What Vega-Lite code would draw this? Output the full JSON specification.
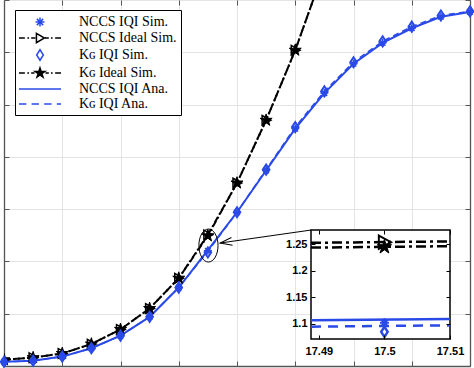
{
  "$schema": "https://vega.github.io/schema/vega-lite/v6.json",
  "width": 466,
  "height": 366,
  "autosize": "none",
  "padding": {"left": 4, "top": 0, "right": 4, "bottom": 2},
  "background": "white",
  "config": {
    "view": {"stroke": null},
    "axis": {"domainColor": "#555555", "domainWidth": 1.3, "tickColor": "#555555", "gridColor": "#e4e4e4", "gridWidth": 1},
    "legend": {"symbolFillColor": "white", "symbolStrokeColor": "black", "labelFontSize": 14, "labelFont": "Liberation Serif"}
  },
  "datasets": {
    "main": [
      {"snr": 0, "series": "NCCS IQI Ana.", "value": 0.04},
      {"snr": 2.5, "series": "NCCS IQI Ana.", "value": 0.05},
      {"snr": 5, "series": "NCCS IQI Ana.", "value": 0.09},
      {"snr": 7.5, "series": "NCCS IQI Ana.", "value": 0.17},
      {"snr": 10, "series": "NCCS IQI Ana.", "value": 0.29},
      {"snr": 12.5, "series": "NCCS IQI Ana.", "value": 0.47},
      {"snr": 15, "series": "NCCS IQI Ana.", "value": 0.75},
      {"snr": 17.5, "series": "NCCS IQI Ana.", "value": 1.108},
      {"snr": 20, "series": "NCCS IQI Ana.", "value": 1.47},
      {"snr": 22.5, "series": "NCCS IQI Ana.", "value": 1.87},
      {"snr": 25, "series": "NCCS IQI Ana.", "value": 2.27},
      {"snr": 27.5, "series": "NCCS IQI Ana.", "value": 2.61},
      {"snr": 30, "series": "NCCS IQI Ana.", "value": 2.89},
      {"snr": 32.5, "series": "NCCS IQI Ana.", "value": 3.09},
      {"snr": 35, "series": "NCCS IQI Ana.", "value": 3.23},
      {"snr": 37.5, "series": "NCCS IQI Ana.", "value": 3.34},
      {"snr": 40, "series": "NCCS IQI Ana.", "value": 3.385},
      {"snr": 0, "series": "NCCS IQI Sim.", "value": 0.04},
      {"snr": 2.5, "series": "NCCS IQI Sim.", "value": 0.05},
      {"snr": 5, "series": "NCCS IQI Sim.", "value": 0.09},
      {"snr": 7.5, "series": "NCCS IQI Sim.", "value": 0.17},
      {"snr": 10, "series": "NCCS IQI Sim.", "value": 0.29},
      {"snr": 12.5, "series": "NCCS IQI Sim.", "value": 0.47},
      {"snr": 15, "series": "NCCS IQI Sim.", "value": 0.75},
      {"snr": 17.5, "series": "NCCS IQI Sim.", "value": 1.102},
      {"snr": 20, "series": "NCCS IQI Sim.", "value": 1.47},
      {"snr": 22.5, "series": "NCCS IQI Sim.", "value": 1.87},
      {"snr": 25, "series": "NCCS IQI Sim.", "value": 2.27},
      {"snr": 27.5, "series": "NCCS IQI Sim.", "value": 2.61},
      {"snr": 30, "series": "NCCS IQI Sim.", "value": 2.89},
      {"snr": 32.5, "series": "NCCS IQI Sim.", "value": 3.09},
      {"snr": 35, "series": "NCCS IQI Sim.", "value": 3.23},
      {"snr": 37.5, "series": "NCCS IQI Sim.", "value": 3.34},
      {"snr": 40, "series": "NCCS IQI Sim.", "value": 3.385},
      {"snr": 0, "series": "Kɢ IQI Ana.", "value": 0.04},
      {"snr": 2.5, "series": "Kɢ IQI Ana.", "value": 0.05},
      {"snr": 5, "series": "Kɢ IQI Ana.", "value": 0.09},
      {"snr": 7.5, "series": "Kɢ IQI Ana.", "value": 0.17},
      {"snr": 10, "series": "Kɢ IQI Ana.", "value": 0.29},
      {"snr": 12.5, "series": "Kɢ IQI Ana.", "value": 0.47},
      {"snr": 15, "series": "Kɢ IQI Ana.", "value": 0.75},
      {"snr": 17.5, "series": "Kɢ IQI Ana.", "value": 1.096},
      {"snr": 20, "series": "Kɢ IQI Ana.", "value": 1.47},
      {"snr": 22.5, "series": "Kɢ IQI Ana.", "value": 1.878},
      {"snr": 25, "series": "Kɢ IQI Ana.", "value": 2.285},
      {"snr": 27.5, "series": "Kɢ IQI Ana.", "value": 2.627},
      {"snr": 30, "series": "Kɢ IQI Ana.", "value": 2.905},
      {"snr": 32.5, "series": "Kɢ IQI Ana.", "value": 3.105},
      {"snr": 35, "series": "Kɢ IQI Ana.", "value": 3.245},
      {"snr": 37.5, "series": "Kɢ IQI Ana.", "value": 3.352},
      {"snr": 40, "series": "Kɢ IQI Ana.", "value": 3.392},
      {"snr": 0, "series": "Kɢ IQI Sim.", "value": 0.04},
      {"snr": 2.5, "series": "Kɢ IQI Sim.", "value": 0.05},
      {"snr": 5, "series": "Kɢ IQI Sim.", "value": 0.09},
      {"snr": 7.5, "series": "Kɢ IQI Sim.", "value": 0.17},
      {"snr": 10, "series": "Kɢ IQI Sim.", "value": 0.29},
      {"snr": 12.5, "series": "Kɢ IQI Sim.", "value": 0.47},
      {"snr": 15, "series": "Kɢ IQI Sim.", "value": 0.75},
      {"snr": 17.5, "series": "Kɢ IQI Sim.", "value": 1.085},
      {"snr": 20, "series": "Kɢ IQI Sim.", "value": 1.47},
      {"snr": 22.5, "series": "Kɢ IQI Sim.", "value": 1.878},
      {"snr": 25, "series": "Kɢ IQI Sim.", "value": 2.285},
      {"snr": 27.5, "series": "Kɢ IQI Sim.", "value": 2.627},
      {"snr": 30, "series": "Kɢ IQI Sim.", "value": 2.905},
      {"snr": 32.5, "series": "Kɢ IQI Sim.", "value": 3.105},
      {"snr": 35, "series": "Kɢ IQI Sim.", "value": 3.245},
      {"snr": 37.5, "series": "Kɢ IQI Sim.", "value": 3.352},
      {"snr": 40, "series": "Kɢ IQI Sim.", "value": 3.392},
      {"snr": 0, "series": "NCCS Ideal Sim.", "value": 0.06},
      {"snr": 2.5, "series": "NCCS Ideal Sim.", "value": 0.08},
      {"snr": 5, "series": "NCCS Ideal Sim.", "value": 0.12},
      {"snr": 7.5, "series": "NCCS Ideal Sim.", "value": 0.21},
      {"snr": 10, "series": "NCCS Ideal Sim.", "value": 0.35},
      {"snr": 12.5, "series": "NCCS Ideal Sim.", "value": 0.55},
      {"snr": 15, "series": "NCCS Ideal Sim.", "value": 0.84},
      {"snr": 17.5, "series": "NCCS Ideal Sim.", "value": 1.254},
      {"snr": 20, "series": "NCCS Ideal Sim.", "value": 1.75},
      {"snr": 22.5, "series": "NCCS Ideal Sim.", "value": 2.35},
      {"snr": 25, "series": "NCCS Ideal Sim.", "value": 3.02},
      {"snr": 27.5, "series": "NCCS Ideal Sim.", "value": 3.8},
      {"snr": 0, "series": "Kɢ Ideal Sim.", "value": 0.06},
      {"snr": 2.5, "series": "Kɢ Ideal Sim.", "value": 0.08},
      {"snr": 5, "series": "Kɢ Ideal Sim.", "value": 0.12},
      {"snr": 7.5, "series": "Kɢ Ideal Sim.", "value": 0.21},
      {"snr": 10, "series": "Kɢ Ideal Sim.", "value": 0.35},
      {"snr": 12.5, "series": "Kɢ Ideal Sim.", "value": 0.55},
      {"snr": 15, "series": "Kɢ Ideal Sim.", "value": 0.84},
      {"snr": 17.5, "series": "Kɢ Ideal Sim.", "value": 1.245},
      {"snr": 20, "series": "Kɢ Ideal Sim.", "value": 1.75},
      {"snr": 22.5, "series": "Kɢ Ideal Sim.", "value": 2.35},
      {"snr": 25, "series": "Kɢ Ideal Sim.", "value": 3.02},
      {"snr": 27.5, "series": "Kɢ Ideal Sim.", "value": 3.8}
    ],
    "inset": [
      {"snr": 17.4888, "series": "NCCS IQI Ana.", "value": 1.1068},
      {"snr": 17.51, "series": "NCCS IQI Ana.", "value": 1.1092},
      {"snr": 17.4888, "series": "Kɢ IQI Ana.", "value": 1.0948},
      {"snr": 17.51, "series": "Kɢ IQI Ana.", "value": 1.0972},
      {"snr": 17.4888, "series": "NCCS Ideal Sim.", "value": 1.2528},
      {"snr": 17.51, "series": "NCCS Ideal Sim.", "value": 1.2555},
      {"snr": 17.4888, "series": "Kɢ Ideal Sim.", "value": 1.2438},
      {"snr": 17.51, "series": "Kɢ Ideal Sim.", "value": 1.2465}
    ]
  },
  "layer": [
    {
      "layer": [
        {
          "data": {"name": "main"},
          "transform": [{"filter": {"field": "series", "equal": "NCCS IQI Ana."}}],
          "mark": {"type": "line", "color": "#2a4ae8", "strokeWidth": 2},
          "encoding": {
            "x": {"field": "snr", "type": "quantitative", "scale": {"domain": [0, 40], "nice": false, "zero": false},
              "axis": {"orient": "bottom", "values": [0, 5, 10, 15, 20, 25, 30, 35, 40], "labels": false, "title": null, "grid": true, "tickSize": -5, "zindex": 0}},
            "y": {"field": "value", "type": "quantitative", "scale": {"domain": [0, 3.5], "nice": false, "zero": false},
              "axis": {"orient": "left", "values": [0, 0.5, 1, 1.5, 2, 2.5, 3, 3.5], "labels": false, "title": null, "grid": true, "tickSize": -5, "zindex": 0}}
          }
        },
        {
          "data": {"name": "main"},
          "transform": [{"filter": {"field": "series", "equal": "Kɢ IQI Ana."}}],
          "mark": {"type": "line", "color": "#2a4ae8", "strokeWidth": 1.5, "strokeDash": [6, 4]},
          "encoding": {
            "x": {"field": "snr", "type": "quantitative", "scale": {"domain": [0, 40], "nice": false, "zero": false},
              "axis": {"orient": "top", "values": [0, 5, 10, 15, 20, 25, 30, 35, 40], "labels": false, "title": null, "grid": false, "domain": false, "tickSize": -5, "zindex": 0}},
            "y": {"field": "value", "type": "quantitative", "scale": {"domain": [0, 3.5], "nice": false, "zero": false},
              "axis": {"orient": "right", "values": [0, 0.5, 1, 1.5, 2, 2.5, 3, 3.5], "labels": false, "title": null, "grid": false, "tickSize": -5, "zindex": 0}}
          }
        },
        {
          "data": {"name": "main"},
          "transform": [{"filter": {"field": "series", "equal": "NCCS Ideal Sim."}}],
          "mark": {"type": "line", "color": "black", "strokeWidth": 2, "strokeDash": [6, 3, 2, 3], "clip": true},
          "encoding": {
            "x": {"field": "snr", "type": "quantitative", "scale": {"domain": [0, 40], "nice": false, "zero": false}, "axis": null},
            "y": {"field": "value", "type": "quantitative", "scale": {"domain": [0, 3.5], "nice": false, "zero": false}, "axis": null}
          }
        },
        {
          "data": {"name": "main"},
          "transform": [{"filter": {"field": "series", "equal": "Kɢ Ideal Sim."}}],
          "mark": {"type": "line", "color": "black", "strokeWidth": 2, "strokeDash": [6, 3, 2, 3], "strokeDashOffset": 4, "clip": true},
          "encoding": {
            "x": {"field": "snr", "type": "quantitative", "scale": {"domain": [0, 40], "nice": false, "zero": false}, "axis": null},
            "y": {"field": "value", "type": "quantitative", "scale": {"domain": [0, 3.5], "nice": false, "zero": false}, "axis": null}
          }
        },
        {
          "data": {"name": "main"},
          "transform": [{"filter": {"field": "series", "equal": "NCCS Ideal Sim."}}],
          "mark": {"type": "point", "shape": "M-0.8,-0.95L0.95,0L-0.8,0.95Z", "size": 100, "filled": false, "stroke": "black", "strokeWidth": 1.5, "opacity": 1, "clip": true},
          "encoding": {
            "x": {"field": "snr", "type": "quantitative", "scale": {"domain": [0, 40], "nice": false, "zero": false}, "axis": null},
            "y": {"field": "value", "type": "quantitative", "scale": {"domain": [0, 3.5], "nice": false, "zero": false}, "axis": null}
          }
        },
        {
          "data": {"name": "main"},
          "transform": [{"filter": {"field": "series", "equal": "Kɢ Ideal Sim."}}],
          "mark": {"type": "point", "shape": "M0,-1L0.2245,-0.309L0.9511,-0.309L0.3633,0.118L0.5878,0.809L0,0.382L-0.5878,0.809L-0.3633,0.118L-0.9511,-0.309L-0.2245,-0.309Z", "size": 160, "filled": true, "fill": "black", "stroke": "black", "strokeWidth": 1, "opacity": 1, "clip": true},
          "encoding": {
            "x": {"field": "snr", "type": "quantitative", "scale": {"domain": [0, 40], "nice": false, "zero": false}, "axis": null},
            "y": {"field": "value", "type": "quantitative", "scale": {"domain": [0, 3.5], "nice": false, "zero": false}, "axis": null}
          }
        },
        {
          "data": {"name": "main"},
          "transform": [{"filter": {"field": "series", "equal": "Kɢ IQI Sim."}}],
          "mark": {"type": "point", "shape": "M0,-1L0.65,0L0,1L-0.65,0Z", "size": 100, "filled": false, "stroke": "#2a4ae8", "strokeWidth": 2, "opacity": 1},
          "encoding": {
            "x": {"field": "snr", "type": "quantitative", "scale": {"domain": [0, 40], "nice": false, "zero": false}, "axis": null},
            "y": {"field": "value", "type": "quantitative", "scale": {"domain": [0, 3.5], "nice": false, "zero": false}, "axis": null}
          }
        },
        {
          "data": {"name": "main"},
          "transform": [{"filter": {"field": "series", "equal": "NCCS IQI Sim."}}],
          "mark": {"type": "point", "shape": "M-1,0H1M0,-1V1M-0.7,-0.7L0.7,0.7M-0.7,0.7L0.7,-0.7", "size": 64, "filled": false, "stroke": "#2a4ae8", "strokeWidth": 1.5, "opacity": 1},
          "encoding": {
            "x": {"field": "snr", "type": "quantitative", "scale": {"domain": [0, 40], "nice": false, "zero": false}, "axis": null},
            "y": {"field": "value", "type": "quantitative", "scale": {"domain": [0, 3.5], "nice": false, "zero": false}, "axis": null}
          }
        },
        {
          "data": {"values": [{"snr": 17.55, "value": 1.152}]},
          "mark": {"type": "point", "shape": "M-0.58,0A0.58,1,0,1,0,0.58,0A0.58,1,0,1,0,-0.58,0Z", "size": 1089, "filled": false, "stroke": "black", "strokeWidth": 1, "opacity": 1},
          "encoding": {
            "x": {"field": "snr", "type": "quantitative", "scale": {"domain": [0, 40], "nice": false, "zero": false}, "axis": null},
            "y": {"field": "value", "type": "quantitative", "scale": {"domain": [0, 3.5], "nice": false, "zero": false}, "axis": null}
          }
        },
        {
          "data": {"values": [{"snr": 26.35, "value": 1.3, "snr2": 18.55, "value2": 1.176}]},
          "mark": {"type": "rule", "color": "black", "strokeWidth": 1},
          "encoding": {
            "x": {"field": "snr", "type": "quantitative", "scale": {"domain": [0, 40], "nice": false, "zero": false}, "axis": null},
            "y": {"field": "value", "type": "quantitative", "scale": {"domain": [0, 3.5], "nice": false, "zero": false}, "axis": null},
            "x2": {"field": "snr2"},
            "y2": {"field": "value2"}
          }
        },
        {
          "data": {"values": [{"snr": 18.55, "value": 1.176}]},
          "mark": {"type": "point", "shape": "M1,-0.33L0,0L1,0.33", "size": 576, "angle": 352, "filled": false, "stroke": "black", "strokeWidth": 1, "opacity": 1},
          "encoding": {
            "x": {"field": "snr", "type": "quantitative", "scale": {"domain": [0, 40], "nice": false, "zero": false}, "axis": null},
            "y": {"field": "value", "type": "quantitative", "scale": {"domain": [0, 3.5], "nice": false, "zero": false}, "axis": null}
          }
        }
      ],
      "resolve": {"axis": {"x": "independent", "y": "independent"}}
    },
    {
      "layer": [
        {
          "data": {"values": [{"x1": 17.4888, "x2": 17.51, "y1": 1.0715, "y2": 1.277}]},
          "mark": {"type": "rect", "fill": "white", "stroke": "black", "strokeWidth": 1.5},
          "encoding": {
            "x": {"field": "x1", "type": "quantitative", "scale": {"domain": [17.4888, 17.51], "range": [307, 446], "nice": false, "zero": false},
              "axis": {"orient": "bottom", "offset": -27, "values": [17.49, 17.5, 17.51], "format": "~g", "title": null, "grid": false, "domain": false, "tickSize": -4, "tickColor": "black", "labelPadding": 10, "labelFont": "Liberation Sans", "labelFontWeight": "bold", "labelFontSize": 11, "labelColor": "black", "labelFlush": false, "labelOverlap": false, "zindex": 1}},
            "x2": {"field": "x2"},
            "y": {"field": "y1", "type": "quantitative", "scale": {"domain": [1.0715, 1.277], "range": [339, 230], "nice": false, "zero": false},
              "axis": {"orient": "left", "offset": -307, "values": [1.1, 1.15, 1.2, 1.25], "format": "~g", "title": null, "grid": false, "domain": false, "tickSize": -4, "tickColor": "black", "labelPadding": 8, "labelFont": "Liberation Sans", "labelFontWeight": "bold", "labelFontSize": 11, "labelColor": "black", "labelOverlap": false, "zindex": 1}},
            "y2": {"field": "y2"}
          }
        },
        {
          "data": {"name": "inset"},
          "transform": [{"filter": {"field": "series", "equal": "NCCS IQI Ana."}}],
          "mark": {"type": "line", "color": "#2a4ae8", "strokeWidth": 2.5},
          "encoding": {
            "x": {"field": "snr", "type": "quantitative", "scale": {"domain": [17.4888, 17.51], "range": [307, 446], "nice": false, "zero": false},
              "axis": {"orient": "top", "offset": -230, "values": [17.49, 17.5, 17.51], "labels": false, "title": null, "grid": false, "domain": false, "tickSize": -4, "tickColor": "black", "zindex": 1}},
            "y": {"field": "value", "type": "quantitative", "scale": {"domain": [1.0715, 1.277], "range": [339, 230], "nice": false, "zero": false},
              "axis": {"orient": "right", "offset": -20, "values": [1.1, 1.15, 1.2, 1.25], "labels": false, "title": null, "grid": false, "domain": false, "tickSize": -4, "tickColor": "black", "zindex": 1}}
          }
        },
        {
          "data": {"name": "inset"},
          "transform": [{"filter": {"field": "series", "equal": "Kɢ IQI Ana."}}],
          "mark": {"type": "line", "color": "#2a4ae8", "strokeWidth": 2.5, "strokeDash": [10, 7]},
          "encoding": {
            "x": {"field": "snr", "type": "quantitative", "scale": {"domain": [17.4888, 17.51], "range": [307, 446], "nice": false, "zero": false}, "axis": null},
            "y": {"field": "value", "type": "quantitative", "scale": {"domain": [1.0715, 1.277], "range": [339, 230], "nice": false, "zero": false}, "axis": null}
          }
        },
        {
          "data": {"name": "inset"},
          "transform": [{"filter": {"field": "series", "equal": "NCCS Ideal Sim."}}],
          "mark": {"type": "line", "color": "black", "strokeWidth": 2.5, "strokeDash": [10, 4, 3, 4]},
          "encoding": {
            "x": {"field": "snr", "type": "quantitative", "scale": {"domain": [17.4888, 17.51], "range": [307, 446], "nice": false, "zero": false}, "axis": null},
            "y": {"field": "value", "type": "quantitative", "scale": {"domain": [1.0715, 1.277], "range": [339, 230], "nice": false, "zero": false}, "axis": null}
          }
        },
        {
          "data": {"name": "inset"},
          "transform": [{"filter": {"field": "series", "equal": "Kɢ Ideal Sim."}}],
          "mark": {"type": "line", "color": "black", "strokeWidth": 2.5, "strokeDash": [10, 4, 3, 4]},
          "encoding": {
            "x": {"field": "snr", "type": "quantitative", "scale": {"domain": [17.4888, 17.51], "range": [307, 446], "nice": false, "zero": false}, "axis": null},
            "y": {"field": "value", "type": "quantitative", "scale": {"domain": [1.0715, 1.277], "range": [339, 230], "nice": false, "zero": false}, "axis": null}
          }
        },
        {
          "data": {"name": "main"},
          "transform": [{"filter": {"and": [{"field": "snr", "equal": 17.5}, {"field": "series", "equal": "NCCS Ideal Sim."}]}}],
          "mark": {"type": "point", "shape": "M-0.8,-0.95L0.95,0L-0.8,0.95Z", "size": 196, "filled": false, "stroke": "black", "strokeWidth": 2, "opacity": 1},
          "encoding": {
            "x": {"field": "snr", "type": "quantitative", "scale": {"domain": [17.4888, 17.51], "range": [307, 446], "nice": false, "zero": false}, "axis": null},
            "y": {"field": "value", "type": "quantitative", "scale": {"domain": [1.0715, 1.277], "range": [339, 230], "nice": false, "zero": false}, "axis": null}
          }
        },
        {
          "data": {"name": "main"},
          "transform": [{"filter": {"and": [{"field": "snr", "equal": 17.5}, {"field": "series", "equal": "Kɢ Ideal Sim."}]}}],
          "mark": {"type": "point", "shape": "M0,-1L0.2245,-0.309L0.9511,-0.309L0.3633,0.118L0.5878,0.809L0,0.382L-0.5878,0.809L-0.3633,0.118L-0.9511,-0.309L-0.2245,-0.309Z", "size": 225, "filled": true, "fill": "black", "stroke": "black", "strokeWidth": 1, "opacity": 1},
          "encoding": {
            "x": {"field": "snr", "type": "quantitative", "scale": {"domain": [17.4888, 17.51], "range": [307, 446], "nice": false, "zero": false}, "axis": null},
            "y": {"field": "value", "type": "quantitative", "scale": {"domain": [1.0715, 1.277], "range": [339, 230], "nice": false, "zero": false}, "axis": null}
          }
        },
        {
          "data": {"name": "main"},
          "transform": [{"filter": {"and": [{"field": "snr", "equal": 17.5}, {"field": "series", "equal": "Kɢ IQI Sim."}]}}],
          "mark": {"type": "point", "shape": "M0,-1L0.65,0L0,1L-0.65,0Z", "size": 100, "filled": false, "stroke": "#2a4ae8", "strokeWidth": 2.5, "opacity": 1},
          "encoding": {
            "x": {"field": "snr", "type": "quantitative", "scale": {"domain": [17.4888, 17.51], "range": [307, 446], "nice": false, "zero": false}, "axis": null},
            "y": {"field": "value", "type": "quantitative", "scale": {"domain": [1.0715, 1.277], "range": [339, 230], "nice": false, "zero": false}, "axis": null}
          }
        },
        {
          "data": {"name": "main"},
          "transform": [{"filter": {"and": [{"field": "snr", "equal": 17.5}, {"field": "series", "equal": "NCCS IQI Sim."}]}}],
          "mark": {"type": "point", "shape": "M-1,0H1M0,-1V1M-0.7,-0.7L0.7,0.7M-0.7,0.7L0.7,-0.7", "size": 81, "filled": false, "stroke": "#2a4ae8", "strokeWidth": 2, "opacity": 1},
          "encoding": {
            "x": {"field": "snr", "type": "quantitative", "scale": {"domain": [17.4888, 17.51], "range": [307, 446], "nice": false, "zero": false}, "axis": null},
            "y": {"field": "value", "type": "quantitative", "scale": {"domain": [1.0715, 1.277], "range": [339, 230], "nice": false, "zero": false}, "axis": null}
          }
        }
      ],
      "resolve": {"axis": {"x": "independent", "y": "independent"}}
    },
    {
      "data": {"values": [
        {"series": "NCCS IQI Sim."}, {"series": "NCCS Ideal Sim."}, {"series": "Kɢ IQI Sim."},
        {"series": "Kɢ Ideal Sim."}, {"series": "NCCS IQI Ana."}, {"series": "Kɢ IQI Ana."}
      ]},
      "transform": [{"filter": "datum.series == 'none'"}],
      "mark": {"type": "point", "filled": false, "strokeWidth": 1.5, "opacity": 1},
      "encoding": {
        "color": {"field": "series", "type": "nominal",
          "scale": {"domain": ["NCCS IQI Sim.", "NCCS Ideal Sim.", "Kɢ IQI Sim.", "Kɢ Ideal Sim.", "NCCS IQI Ana.", "Kɢ IQI Ana."],
            "range": ["#2a4ae8", "black", "#2a4ae8", "black", "#2a4ae8", "#2a4ae8"]},
          "legend": {
            "orient": "none", "legendX": 11, "legendY": 10, "title": null, "direction": "vertical",
            "symbolStrokeWidth": 1.5, "symbolSize": 196, "symbolOffset": 13, "symbolOpacity": 1,
            "labelFont": "Liberation Serif", "labelFontSize": 14, "labelColor": "black", "labelOffset": 31, "labelLimit": 300,
            "rowPadding": 0, "padding": 4, "strokeColor": "black", "fillColor": "white"
          }},
        "fill": {"field": "series", "type": "nominal",
          "scale": {"domain": ["NCCS IQI Sim.", "NCCS Ideal Sim.", "Kɢ IQI Sim.", "Kɢ Ideal Sim.", "NCCS IQI Ana.", "Kɢ IQI Ana."],
            "range": ["transparent", "white", "white", "black", "transparent", "transparent"]}},
        "shape": {"field": "series", "type": "nominal",
          "scale": {"domain": ["NCCS IQI Sim.", "NCCS Ideal Sim.", "Kɢ IQI Sim.", "Kɢ Ideal Sim.", "NCCS IQI Ana.", "Kɢ IQI Ana."],
            "range": [
              "M-0.64,0H0.64M0,-0.64V0.64M-0.45,-0.45L0.45,0.45M-0.45,0.45L0.45,-0.45",
              "M-3,0H-2.16M-1.8,0H-1.56M-1.26,0H-0.66M0.72,0H1.26M1.56,0H1.8M2.16,0H3M-0.51,-0.66L0.63,0L-0.51,0.66Z",
              "M0,-0.75L0.48,0L0,0.75L-0.48,0Z",
              "M-3,0H-2.16M-1.8,0H-1.56M-1.26,0H-0.78M0.78,0H1.26M1.56,0H1.8M2.16,0H3M0,-0.72L0.162,-0.222L0.684,-0.222L0.261,0.084L0.423,0.582L0,0.276L-0.423,0.582L-0.261,0.084L-0.684,-0.222L-0.162,-0.222Z",
              "M-3,0H3",
              "M-3,0H-1.95M-1.2,0H-0.15M0.6,0H1.65M2.4,0H3"
            ]}}
      }
    }
  ],
  "resolve": {"scale": {"x": "independent", "y": "independent"}}
}
